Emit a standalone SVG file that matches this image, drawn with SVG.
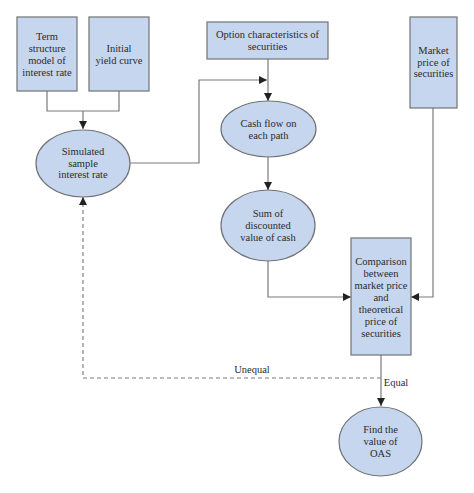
<svg xmlns="http://www.w3.org/2000/svg" width="474" height="493" viewBox="0 0 474 493">
<style>
.box{fill:#c6d6ee;stroke:#707275;stroke-width:1.2}
.t{font-family:"Liberation Serif",serif;font-size:10.5px;fill:#2b2b2b;text-anchor:middle}
.c{fill:none;stroke:#7a7a7a;stroke-width:1.2}
.d{fill:none;stroke:#7a7a7a;stroke-width:1.1;stroke-dasharray:4,3}
</style>
<defs>
<marker id="ah" viewBox="0 0 10 10" refX="10" refY="5" markerWidth="8" markerHeight="8" markerUnits="userSpaceOnUse" orient="auto">
<path d="M0,0L10,5L0,10z" fill="#222"/>
</marker>
</defs>
<rect width="474" height="493" fill="#fff"/>
<g id="connectors">
<path class="c" d="M47,91V111H119V91"/>
<path class="c" d="M83,111V129" marker-end="url(#ah)"/>
<path class="c" d="M130,163H199V80H267" marker-end="url(#ah)"/>
<path class="c" d="M268,59V101" marker-end="url(#ah)"/>
<path class="c" d="M268,157V190" marker-end="url(#ah)"/>
<path class="c" d="M268,261V297H351" marker-end="url(#ah)"/>
<path class="c" d="M433,108V297H411" marker-end="url(#ah)"/>
<path class="c" d="M381,355V406" marker-end="url(#ah)"/>
<path class="d" d="M381,378H83V197" marker-end="url(#ah)"/>
<text class="t" x="252" y="373">Unequal</text>
<text class="t" x="396" y="386">Equal</text>
</g>
<g id="term">
<rect class="box" x="17" y="17" width="60" height="74"/>
<text class="t" x="47" y="40">Term</text>
<text class="t" x="47" y="52">structure</text>
<text class="t" x="47" y="64">model of</text>
<text class="t" x="47" y="76">interest rate</text>
</g>
<g id="initial">
<rect class="box" x="89" y="17" width="60" height="74"/>
<text class="t" x="119" y="52">Initial</text>
<text class="t" x="119" y="64">yield curve</text>
</g>
<g id="simulated">
<ellipse class="box" cx="83" cy="163.5" rx="47" ry="33.5"/>
<text class="t" x="83" y="155">Simulated</text>
<text class="t" x="83" y="167">sample</text>
<text class="t" x="83" y="178">interest rate</text>
</g>
<g id="option">
<rect class="box" x="207" y="22" width="121" height="37"/>
<text class="t" x="267.5" y="38">Option characteristics of</text>
<text class="t" x="267.5" y="50">securities</text>
</g>
<g id="market">
<rect class="box" x="410" y="17" width="47" height="91"/>
<text class="t" x="433.5" y="54">Market</text>
<text class="t" x="433.5" y="66">price of</text>
<text class="t" x="433.5" y="77">securities</text>
</g>
<g id="cashflow">
<ellipse class="box" cx="268.5" cy="129" rx="47.5" ry="28"/>
<text class="t" x="268.5" y="127">Cash flow on</text>
<text class="t" x="268.5" y="139">each path</text>
</g>
<g id="sum">
<ellipse class="box" cx="268" cy="225.5" rx="47" ry="35.5"/>
<text class="t" x="268" y="217">Sum of</text>
<text class="t" x="268" y="229">discounted</text>
<text class="t" x="268" y="241">value of cash</text>
</g>
<g id="comparison">
<rect class="box" x="351" y="238" width="60" height="117"/>
<text class="t" x="381" y="265">Comparison</text>
<text class="t" x="381" y="277">between</text>
<text class="t" x="381" y="289">market price</text>
<text class="t" x="381" y="301">and</text>
<text class="t" x="381" y="313">theoretical</text>
<text class="t" x="381" y="325">price of</text>
<text class="t" x="381" y="337">securities</text>
</g>
<g id="oas">
<ellipse class="box" cx="380.5" cy="441.5" rx="41.5" ry="34.5"/>
<text class="t" x="380.5" y="433">Find the</text>
<text class="t" x="380.5" y="445">value of</text>
<text class="t" x="380.5" y="457">OAS</text>
</g>
</svg>
